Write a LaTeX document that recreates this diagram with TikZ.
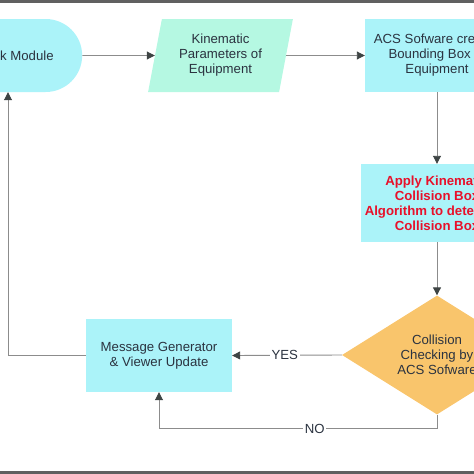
\documentclass[tikz,border=0pt]{standalone}
\usepackage{fontspec}
\setmainfont{Liberation Sans}
\usetikzlibrary{arrows.meta,shapes.geometric,shapes.misc}

\definecolor{boxcyan}{HTML}{ABF3F9}
\definecolor{boxmint}{HTML}{B5F8E2}
\definecolor{decorange}{HTML}{F9C56C}
\definecolor{linegray}{HTML}{8C8C8C}
\definecolor{tipdark}{HTML}{3E4444}
\definecolor{txtdark}{HTML}{2B3340}
\definecolor{alertred}{HTML}{E8102A}
\definecolor{bandgray}{HTML}{606060}

\tikzset{
  base/.style={inner sep=0pt, align=center, text=txtdark,
    font=\fontsize{13.2}{15}\selectfont},
  procbox/.style={base, rectangle, fill=boxcyan},
  startbox/.style={base, rounded rectangle, rounded rectangle west arc=none, fill=boxcyan},
  iobox/.style={base, trapezium, trapezium left angle=77, trapezium right angle=103,
    trapezium stretches=true, fill=boxmint},
  decbox/.style={base, diamond, fill=decorange},
  flowline/.style={draw=linegray, line width=0.9pt,
    -{Triangle[length=8pt,width=8pt,color=tipdark]}},
  plainline/.style={draw=linegray, line width=0.9pt},
  edgelabel/.style={fill=white, inner sep=1.5pt, text=txtdark,
    font=\fontsize{13.2}{15}\selectfont}
}

\begin{document}
\begin{tikzpicture}[x=1pt,y=-1pt]
\useasboundingbox (0,0) rectangle (474,474);
\clip (0,0) rectangle (474,474);

% frame bands
\fill[bandgray] (0,0) rectangle (474,3);
\fill[bandgray] (0,471) rectangle (474,474);

% blocks
\node[startbox, minimum width=152pt, minimum height=73pt] (start) at (6,55.5) {Network Module};
\node[iobox, minimum width=145pt, minimum height=73pt] (kin) at (220.5,55.5)
  {Kinematic\\Parameters of\\Equipment};
\node[procbox, minimum width=144pt, minimum height=73pt] (acs) at (437,55.5)
  {ACS Sofware creates\\Bounding Box of\\Equipment};
\node[procbox, minimum width=152pt, minimum height=78pt, text=alertred,
  font=\fontsize{13.2}{15}\selectfont\bfseries] (kcb) at (437,203)
  {Apply Kinematic\\Collision Box\\Algorithm to detect the\\Collision Box};
\node[decbox, minimum width=190pt, minimum height=96pt] (chk) at (437,355)
  {Collision\\Checking by\\ACS Sofware};
\node[procbox, minimum width=146pt, minimum height=73pt] (msg) at (159,355.5)
  {Message Generator\\\& Viewer Update};

\coordinate (retx) at (8,0);
\coordinate (noy) at (0,428.5);

% connectors
\draw[flowline] (start) -- (kin);
\draw[flowline] (kin) -- (acs);
\draw[flowline] (acs) -- (kcb);
\draw[flowline] (kcb) -- (chk);
\draw[flowline] (chk.west) -- node[edgelabel, pos=0.52] {YES} (msg.east);
\draw[flowline] (chk.south) |- node[edgelabel, pos=0.72] {NO} (msg.south |- noy) -- (msg.south);
\draw[flowline] (msg.west) -| (start.south -| retx);
\end{tikzpicture}
\end{document}
